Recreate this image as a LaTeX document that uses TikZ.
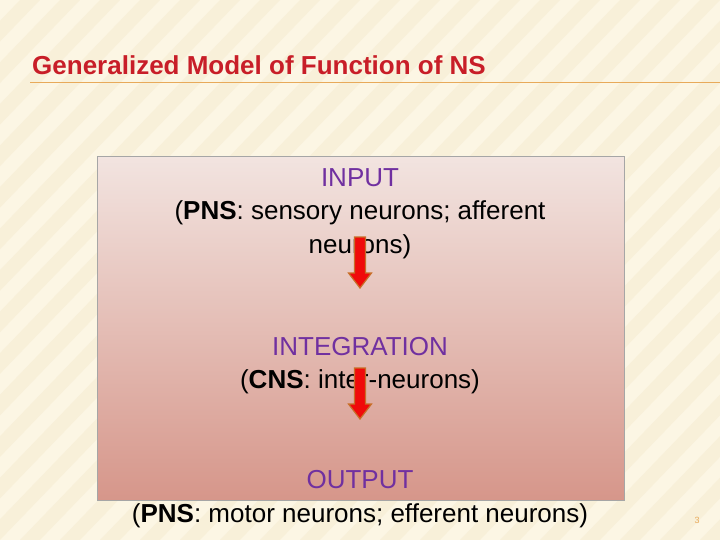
\documentclass[tikz,border=0pt]{standalone}
\usepackage{fontspec}
\setmainfont{Liberation Sans}
\usetikzlibrary{calc}
\definecolor{bg}{RGB}{252,246,228}
\definecolor{stripe}{RGB}{246,236,210}
\definecolor{ttl}{RGB}{200,30,40}
\definecolor{uline}{RGB}{232,170,90}
\definecolor{boxtop}{RGB}{242,228,224}
\definecolor{boxbot}{RGB}{214,150,138}
\definecolor{purp}{RGB}{112,48,160}
\definecolor{arrfill}{RGB}{240,10,10}
\definecolor{arredge}{RGB}{200,110,40}
\tikzset{txt/.style={font=\fontsize{26}{30}\selectfont,anchor=base,inner sep=0,text=black},
blockarrow/.style={fill=arrfill,draw=arredge,line width=1.2pt,line join=miter}}
\begin{document}
\begin{tikzpicture}[x=1pt,y=-1pt]
\useasboundingbox (0,0) rectangle (720,540);
\fill[bg] (0,0) rectangle (720,540);
\foreach \i in {0,40,...,1200}{\fill[stripe,opacity=0.6] (\i-500,540) -- (\i-480,540) -- (\i+40,0) -- (\i+20,0) -- cycle;}
\node[anchor=base west,inner sep=0,text=ttl,font=\bfseries\fontsize{26}{30}\selectfont] (title) at (32,75) {Generalized Model of Function of NS};
\draw[uline,line width=0.8pt] (30,82) -- (720,82);
\node[draw=gray!70,line width=0.6pt,top color=boxtop,bottom color=boxbot,minimum width=527,minimum height=344,anchor=north west,inner sep=0] (box) at (97,156) {};
\node[txt,text=purp] (in1) at (360,187) {INPUT};
\node[txt] (in2) at (360,220) {(\textbf{PNS}: sensory neurons; afferent};
\node[txt] (in3) at (360,253) {neurons)};
\node[txt,text=purp] (ig1) at (360,355) {INTEGRATION};
\node[txt] (ig2) at (360,388) {(\textbf{CNS}: inter-neurons)};
\node[txt,text=purp] (out1) at (360,488) {OUTPUT};
\node[txt] (out2) at (360,522) {(\textbf{PNS}: motor neurons; efferent neurons)};
\node[text=uline,font=\fontsize{9}{10}\selectfont] (pg) at (697,520) {3};
\coordinate (a1) at (360,237);
\coordinate (a2) at (360,368);
\foreach \c in {a1,a2}{
\draw[blockarrow] ($(\c)+(-5.5,0)$) -- ++(11,0) -- ++(0,36) -- ++(6,0) -- ($(\c)+(0,51)$) -- ++(-11.5,-15) -- ++(6,0) -- cycle;}
\end{tikzpicture}
\end{document}
